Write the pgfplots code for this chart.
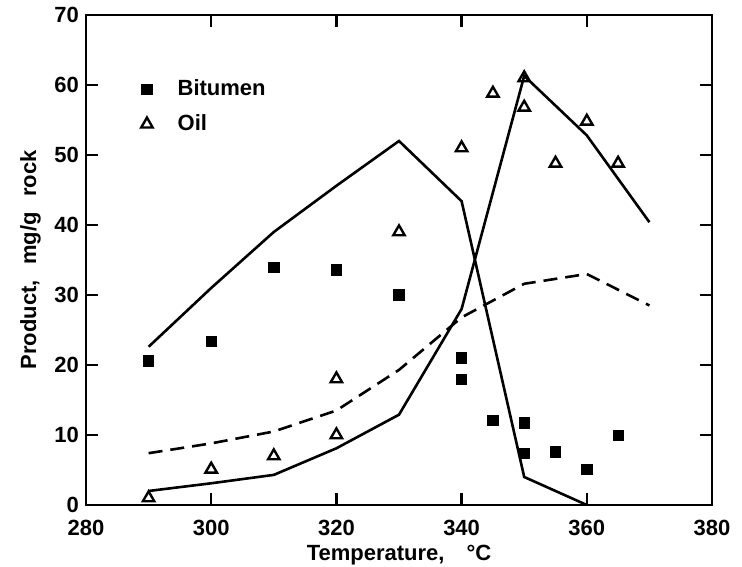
\documentclass[border=0pt]{standalone}
\usepackage{fontspec}
\setmainfont{Liberation Sans}
\usepackage{pgfplots}
\pgfplotsset{compat=1.18}
\begin{document}
\begin{tikzpicture}
\begin{axis}[
  name=ax,
  scale only axis, width=313pt, height=245pt,
  xmin=280, xmax=380, ymin=0, ymax=70,
  xtick={280,300,...,380}, ytick={0,10,...,70},
  tick align=inside, major tick length=6pt,
  axis line style={line width=1.2pt},
  every tick/.style={line width=1.2pt, black},
  font=\bfseries\fontsize{11}{13}\selectfont,
  /pgf/number format/assume math mode=true,
  /pgf/number format/1000 sep={},
  xticklabel style={yshift=-4pt},
  xlabel={Temperature,\hspace{1em}°C},
  xlabel style={yshift=2pt},
  ylabel={Product,\hspace{0.7em}mg/g\hspace{0.7em}rock},
  legend style={draw=none, fill=none, at={(0.078,0.885)}, anchor=north west,
    row sep=4pt, font=\bfseries\fontsize{11}{13}\selectfont},
  /tikz/every odd column/.append style={column sep=10.5pt},
  legend cell align=left,
]
% measured yields
\addplot[only marks, mark=square*, mark size=2.6pt, black] coordinates {
  (290,20.6) (300,23.4) (310,33.9) (320,33.6) (330,30.0)
  (340,21.0) (340,17.9) (345,12.1) (350,11.7) (350,7.4)
  (355,7.6) (360,5.1) (365,9.9)
};
\addlegendentry{Bitumen}
\addplot[only marks, mark=triangle, mark size=3.3pt, black, line width=1.2pt] coordinates {
  (290,1.0) (300,5.1) (310,7.0) (320,18.0) (320,10.0) (330,39.0)
  (340,51.0) (345,58.8) (350,61.0) (350,56.8) (355,48.8)
  (360,54.8) (365,48.8)
};
\addlegendentry{Oil}
% model curves
\addplot[black, line width=1.3pt, forget plot] coordinates {
  (290,22.6) (300,31.0) (310,39.0) (320,45.6) (330,52.0)
  (340,43.4) (350,4.0) (360,0.0)
};
\addplot[black, line width=1.3pt, forget plot] coordinates {
  (290,2.0) (300,3.1) (310,4.3) (320,8.1) (330,12.9)
  (340,28.0) (350,61.3) (360,52.8) (370,40.4)
};
\addplot[black, line width=1.3pt, dash pattern=on 7pt off 4pt, forget plot] coordinates {
  (290,7.4) (300,8.8) (310,10.5) (320,13.5) (330,19.3)
  (340,26.8) (350,31.6) (360,33.0) (370,28.5)
};
\end{axis}
\pgfresetboundingbox
\path[use as bounding box] ([shift={(-43pt,-31pt)}]ax.south west) rectangle ([shift={(15pt,7.5pt)}]ax.north east);
\end{tikzpicture}
\end{document}
